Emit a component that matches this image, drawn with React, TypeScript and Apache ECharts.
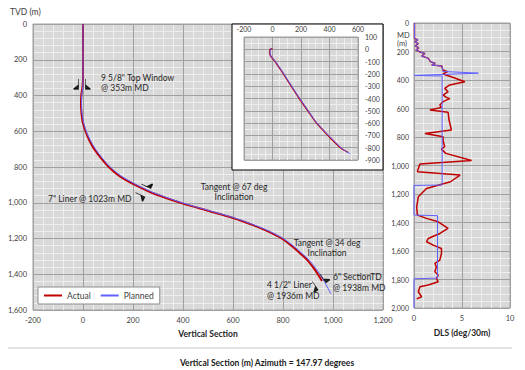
import React, { useEffect, useRef } from "react";
import * as echarts from "echarts";

// ---------- Data ----------
// Vertical section (m) vs TVD (m)
const actualTVD = [0, 100, 200, 300, 350, 400, 450, 500, 550, 600, 650, 700, 750, 800, 850, 895, 940, 975, 1005, 1045, 1085, 1125, 1160, 1200, 1248, 1285, 1325, 1380, 1438];
const actualVS = [0, 0, 0, 0, -2, -7, -8, -6, -1, 10, 25, 45, 72, 103, 145, 200, 268, 335, 400, 500, 600, 680, 740, 795, 840, 870, 900, 930, 956];
const plannedTVD = [0, 100, 200, 300, 350, 400, 450, 500, 550, 600, 650, 700, 750, 800, 850, 895, 940, 975, 1005, 1045, 1085, 1125, 1160, 1200, 1248, 1285, 1325, 1380, 1438, 1510];
const plannedVS = [0, 0, 0, 0, -1, -5, -6, -4, 2, 13, 29, 50, 77, 109, 152, 208, 276, 343, 408, 507, 606, 686, 746, 801, 847, 877, 907, 938, 964, 992];

// Plan view (inset): easting vs northing (m)
const actualE = [0, -8, -18, -20, -10, 19, 48, 77, 132, 188, 248, 309, 390, 477, 530];
const actualN = [0, 5, -5, -30, -60, -100, -150, -200, -300, -400, -500, -600, -700, -800, -838];
const plannedE = [0, -6, -16, -18, -8, 21, 51, 80, 135, 191, 251, 312, 393, 480, 545];
const plannedN = [0, 4, -5, -30, -60, -100, -150, -200, -300, -400, -500, -600, -700, -800, -850];

// DLS (deg/30m) vs MD (m)
const actualMD = [0, 108, 119, 131, 145, 160, 175, 190, 205, 213, 232, 248, 271, 283, 295, 302, 330, 341, 358, 375, 412, 435, 459, 482, 506, 522, 531, 552, 576, 592, 611, 627, 681, 751, 775, 798, 826, 868, 885, 915, 965, 990, 1021, 1044, 1067, 1114, 1161, 1219, 1290, 1348, 1371, 1395, 1441, 1477, 1512, 1535, 1559, 1582, 1617, 1664, 1687, 1711, 1746, 1769, 1793, 1816, 1839, 1851, 1886, 1921, 1936];
const actualDLS = [0.05, 0.05, 0.4, 0.08, 0.45, 0.12, 0.5, 0.2, 0.7, 1.14, 0.8, 1.5, 1.7, 2.2, 1.85, 2.9, 3.0, 3.5, 3.0, 3.8, 5.3, 3.72, 3.2, 3.55, 3.03, 3.38, 3.72, 3.03, 2.69, 2.86, 1.66, 3.55, 3.65, 3.9, 1.14, 3.03, 3.03, 3.2, 2.86, 3.31, 6.0, 0.62, 0.45, 0.35, 4.8, 3.8, 1.3, 0.45, 0.28, 0.35, 1.31, 2.52, 3.55, 2.69, 1.48, 1.31, 2.0, 2.86, 2.86, 2.69, 2.17, 2.34, 2.17, 2.52, 2.34, 2.52, 1.48, 0.62, 0.45, 0.79, 0.28];
const plannedMD = [0, 108, 119, 131, 145, 160, 175, 190, 205, 213, 232, 248, 271, 283, 295, 302, 330, 340, 352, 368, 372, 1137, 1140, 1348, 1352, 1790, 1795, 2000];
const plannedDLS = [0.05, 0.05, 0.4, 0.08, 0.45, 0.12, 0.5, 0.2, 0.7, 1.14, 0.8, 1.5, 1.7, 2.2, 1.85, 2.9, 3.0, 3.0, 6.7, 0, 2.93, 2.93, 0, 0, 2.45, 2.45, 0, 0];

// Casing shoe markers (VS, TVD, rotation, side)
const shoeVS = [-28, 20, 256, 224, 968, 920];
const shoeTVD = [336, 336, 895, 968, 1415, 1471];
const shoeRotate = [0, 0, 65, 65, 35, 35];
const shoeSide = ["L", "R", "R", "L", "R", "L"];

const seriesNames = ["Actual", "Planned"];
const bottomTitle = "Vertical Section (m) Azimuth = 147.97 degrees";

const RED = "#c00000";
const BLUE = "#6060ff";
const FONT = "Lato, 'Open Sans', sans-serif";
const TXT = "#404040";
const MAJOR = "#a0a0a0";
const MINOR = "#eeeeee";
const BG = "#d9d9d9";

const fmt = (v: number) => v.toLocaleString("en-US");

const pairs = (xs: number[], ys: number[]) => xs.map((x, i) => [x, ys[i]]);

const SHOE_L = "path://M4,0 L4,10 L0,10 L4,6 Z";
const SHOE_R = "path://M0,0 L0,10 L4,10 L0,6 Z";

// plot rectangles (layout)
const G_MAIN = { left: 33, top: 24, width: 350, height: 286 };
const G_INSET = { left: 244, top: 37, width: 114, height: 123 };
const G_DLS = { left: 414, top: 23, width: 96, height: 285 };

function majorAxis(extra: any) {
  return {
    type: "value",
    axisTick: { show: false },
    axisLine: { show: true, lineStyle: { color: MAJOR } },
    splitLine: { show: true, lineStyle: { color: MAJOR, width: 1 } },
    axisLabel: { color: TXT, fontSize: 7.5, fontFamily: FONT, formatter: fmt },
    ...extra,
  };
}

function minorAxis(extra: any) {
  return {
    type: "value",
    axisTick: { show: false },
    axisLine: { show: false },
    axisLabel: { show: false },
    splitLine: { show: true, lineStyle: { color: MINOR, width: 1 } },
    ...extra,
  };
}

const annotations = [
  { t: '9 5/8" Top Window', x: 101, y: 78, a: "left" },
  { t: "@ 353m MD", x: 101, y: 88, a: "left" },
  { t: '7" Liner @ 1023m MD', x: 48, y: 199, a: "left" },
  { t: "Tangent @ 67 deg", x: 234, y: 187, a: "center" },
  { t: "Inclination", x: 234, y: 197, a: "center" },
  { t: "Tangent @ 34 deg", x: 327, y: 243, a: "center" },
  { t: "Inclination", x: 327, y: 253, a: "center" },
  { t: '6" SectionTD', x: 333, y: 277, a: "left" },
  { t: "@ 1938m MD", x: 333, y: 288, a: "left" },
  { t: '4 1/2" Liner', x: 267, y: 285, a: "left" },
  { t: "@ 1936m MD", x: 267, y: 296, a: "left" },
];

const bgRect = (g: any, z: number) => ({
  type: "rect", z, silent: true,
  shape: { x: g.left, y: g.top, width: g.width, height: g.height },
  style: { fill: BG, stroke: MAJOR, lineWidth: 1 },
});

export default function App() {
  const ref = useRef<HTMLDivElement>(null);
  useEffect(() => {
    if (!ref.current) return;
    const chart = echarts.init(ref.current, undefined, { renderer: "svg" });
    const option: any = {
      animation: false,
      backgroundColor: "#ffffff",
      textStyle: { fontFamily: FONT },
      grid: [
        { ...G_MAIN, show: false },
        { ...G_INSET, show: false },
        { ...G_DLS, show: false },
      ],
      xAxis: [
        majorAxis({
          gridIndex: 0, min: -200, max: 1200, interval: 200, z: 2,
          axisLabel: { color: TXT, fontSize: 7.5, fontFamily: FONT, formatter: fmt, margin: 6 },
          name: "Vertical Section", nameLocation: "middle", nameGap: 19,
          nameTextStyle: { fontWeight: "bold", fontSize: 8.5, color: "#262626", fontFamily: FONT },
        }),
        majorAxis({
          gridIndex: 1, min: -200, max: 600, interval: 200, position: "top", z: 13,
          axisLabel: { color: TXT, fontSize: 7, fontFamily: FONT, formatter: fmt, margin: 5 },
        }),
        majorAxis({
          gridIndex: 2, min: 0, max: 10, interval: 5, z: 2,
          axisLabel: { color: TXT, fontSize: 7.5, fontFamily: FONT, formatter: fmt, margin: 6 },
          name: "DLS (deg/30m)", nameLocation: "middle", nameGap: 20,
          nameTextStyle: { fontWeight: "bold", fontSize: 8.5, color: "#262626", fontFamily: FONT },
        }),
        minorAxis({ gridIndex: 0, min: -200, max: 1200, interval: 40, z: 1, position: "top" }),
        minorAxis({ gridIndex: 1, min: -200, max: 600, interval: 50, z: 12, position: "bottom" }),
        minorAxis({ gridIndex: 2, min: 0, max: 10, interval: 1, z: 1, position: "top" }),
      ],
      yAxis: [
        majorAxis({
          gridIndex: 0, min: 0, max: 1600, interval: 200, inverse: true, z: 2,
          axisLabel: { color: TXT, fontSize: 7.5, fontFamily: FONT, formatter: fmt, margin: 6 },
        }),
        majorAxis({
          gridIndex: 1, min: -900, max: 100, interval: 100, position: "right", z: 13,
          axisLabel: { color: TXT, fontSize: 7, fontFamily: FONT, formatter: fmt, margin: 7 },
        }),
        majorAxis({
          gridIndex: 2, min: 0, max: 2000, interval: 200, inverse: true, z: 2,
          axisLabel: { color: TXT, fontSize: 7, fontFamily: FONT, formatter: fmt, margin: 5 },
        }),
        minorAxis({ gridIndex: 0, min: 0, max: 1600, interval: 40, inverse: true, z: 1, position: "right" }),
        minorAxis({ gridIndex: 1, min: -900, max: 100, interval: 50, z: 12, position: "left" }),
        minorAxis({ gridIndex: 2, min: 0, max: 2000, interval: 50, inverse: true, z: 1, position: "right" }),
      ],
      legend: {
        data: seriesNames,
        left: 38, top: 287,
        backgroundColor: "#ffffff", borderColor: "#8c8c8c", borderWidth: 1,
        padding: [4, 6, 4, 6], itemGap: 10, itemWidth: 18, itemHeight: 2,
        icon: "rect",
        textStyle: { fontSize: 8.5, color: TXT, fontFamily: FONT },
        z: 20,
      },
      series: [
        {
          name: seriesNames[0], type: "line", xAxisIndex: 0, yAxisIndex: 0,
          data: pairs(actualVS, actualTVD), symbol: "none", smooth: 0.3,
          color: RED, lineStyle: { color: RED, width: 2 }, z: 3,
        },
        {
          name: seriesNames[1], type: "line", xAxisIndex: 0, yAxisIndex: 0,
          data: pairs(plannedVS, plannedTVD), symbol: "none", smooth: 0.3,
          color: BLUE, lineStyle: { color: BLUE, width: 1 }, z: 4,
        },
        {
          name: seriesNames[0], type: "line", xAxisIndex: 1, yAxisIndex: 1,
          data: pairs(actualE, actualN), symbol: "none", smooth: 0.3,
          color: RED, lineStyle: { color: RED, width: 1.5 }, z: 14,
        },
        {
          name: seriesNames[1], type: "line", xAxisIndex: 1, yAxisIndex: 1,
          data: pairs(plannedE, plannedN), symbol: "none", smooth: 0.3,
          color: BLUE, lineStyle: { color: BLUE, width: 1 }, z: 15,
        },
        {
          name: seriesNames[0], type: "line", xAxisIndex: 2, yAxisIndex: 2,
          data: pairs(actualDLS, actualMD), symbol: "none",
          color: RED, lineStyle: { color: RED, width: 1.5 }, z: 3,
        },
        {
          name: seriesNames[1], type: "line", xAxisIndex: 2, yAxisIndex: 2,
          data: pairs(plannedDLS, plannedMD), symbol: "none",
          color: BLUE, lineStyle: { color: BLUE, width: 1 }, z: 4,
        },
        {
          name: "shoes", type: "scatter", xAxisIndex: 0, yAxisIndex: 0, z: 5,
          data: shoeVS.map((v, i) => ({
            value: [v, shoeTVD[i]],
            symbol: shoeSide[i] === "L" ? SHOE_L : SHOE_R,
            symbolRotate: shoeRotate[i],
          })),
          symbolSize: [5, 10],
          itemStyle: { color: "#000000", borderColor: "#000000", borderWidth: 1 },
        },
      ],
      graphic: [
        bgRect(G_MAIN, -10),
        bgRect(G_DLS, -10),
        {
          type: "rect", z: 10, silent: true,
          shape: { x: 232, y: 24, width: 151, height: 146 },
          style: { fill: "#ffffff", stroke: "#000000", lineWidth: 1 },
        },
        bgRect(G_INSET, 11),
        {
          type: "text", x: 10, y: 12, z: 20,
          style: { text: "TVD (m)", fontSize: 8.5, fontFamily: FONT, fill: TXT, verticalAlign: "middle" },
        },
        {
          type: "text", x: 397, y: 35, z: 20,
          style: { text: "MD", fontSize: 7.5, fontFamily: FONT, fill: TXT, verticalAlign: "middle" },
        },
        {
          type: "text", x: 397, y: 43, z: 20,
          style: { text: "(m)", fontSize: 7.5, fontFamily: FONT, fill: TXT, verticalAlign: "middle" },
        },
        ...annotations.map((a) => ({
          type: "text", x: a.x, y: a.y, z: 20,
          style: { text: a.t, fontSize: 8.5, fontFamily: FONT, fill: "#262626", align: a.a, verticalAlign: "middle" },
        })),
        {
          type: "line", z: 20,
          shape: { x1: 8, y1: 348, x2: 512, y2: 348 },
          style: { stroke: "#c8c8c8", lineWidth: 1 },
        },
        {
          type: "text", x: 267, y: 363, z: 20,
          style: { text: bottomTitle, fontSize: 8.5, fontWeight: "bold", fontFamily: FONT, fill: "#1a1a1a", align: "center", verticalAlign: "middle" },
        },
      ],
    };
    chart.setOption(option);
    return () => chart.dispose();
  }, []);
  return (
    <div
      ref={ref}
      style={{ position: "absolute", left: 0, top: 0, width: 525, height: 370 }}
    />
  );
}
